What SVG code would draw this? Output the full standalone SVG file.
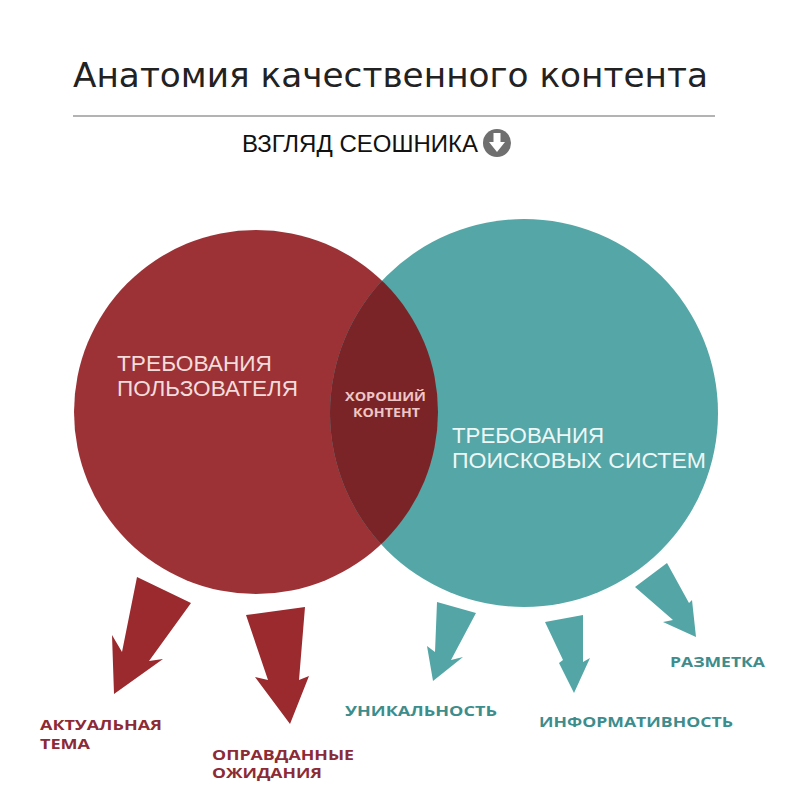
<svg xmlns="http://www.w3.org/2000/svg" width="800" height="804" viewBox="0 0 800 804">
  <style>
    .title { font-family: "DejaVu Sans", Verdana, sans-serif; font-size: 33px; fill: #222; }
    .sub { font-family: "Liberation Sans", Arial, sans-serif; font-size: 24px; fill: #111; }
    .big { font-family: "Liberation Sans", Arial, sans-serif; font-size: 22px; }
    .small { font-family: "Open Sans", "DejaVu Sans", sans-serif; font-size: 12px; font-weight: 700; fill: #f0c6c6; }
    .lbl { font-family: "Open Sans", "DejaVu Sans", sans-serif; font-size: 14.5px; font-weight: 700; }
    .redlbl { fill: #8c2a36; }
    .teallbl { fill: #3d8d8d; }
    .redarr { fill: #9a2a2e; }
    .tealarr { fill: #54a6a6; }
  </style>
  <defs>
    <clipPath id="clipRed">
      <circle cx="256" cy="412" r="182"/>
    </clipPath>
  </defs>
  <rect width="800" height="804" fill="#ffffff"/>

  <g id="header">
    <text class="title" x="73" y="87" textLength="635" lengthAdjust="spacingAndGlyphs">Анатомия качественного контента</text>
    <line x1="73" y1="116" x2="715" y2="116" stroke="#9a9a9a" stroke-width="1.5"/>
    <text class="sub" x="242" y="152" textLength="236" lengthAdjust="spacingAndGlyphs">ВЗГЛЯД СЕОШНИКА</text>
    <g id="icon">
      <circle cx="497" cy="143" r="14" fill="#6f6f6f"/>
      <path d="M493.5 133 H500.5 V142 H505 L497 152 L489 142 H493.5 Z" fill="#ffffff"/>
    </g>
  </g>

  <g id="user-req">
    <circle cx="256" cy="412" r="182" fill="#9c3236"/>
    <text class="big" fill="#f3dcdc" x="117" y="371" textLength="155" lengthAdjust="spacingAndGlyphs">ТРЕБОВАНИЯ</text>
    <text class="big" fill="#f3dcdc" x="117" y="396" textLength="181" lengthAdjust="spacingAndGlyphs">ПОЛЬЗОВАТЕЛЯ</text>
  </g>

  <g id="search-req">
    <circle cx="524" cy="413" r="194" fill="#55a6a6"/>
    <text class="big" fill="#eef7f7" x="452" y="443" textLength="152" lengthAdjust="spacingAndGlyphs">ТРЕБОВАНИЯ</text>
    <text class="big" fill="#eef7f7" x="452" y="468" textLength="254" lengthAdjust="spacingAndGlyphs">ПОИСКОВЫХ СИСТЕМ</text>
  </g>

  <g id="good-content">
    <circle cx="524" cy="413" r="194" fill="#7a2428" clip-path="url(#clipRed)"/>
    <text class="small" x="345" y="401" textLength="81" lengthAdjust="spacingAndGlyphs">ХОРОШИЙ</text>
    <text class="small" x="353" y="417" textLength="67" lengthAdjust="spacingAndGlyphs">КОНТЕНТ</text>
  </g>

  <g id="connectors">
    <polygon class="redarr" points="137,577 191,603 149,661 163,659 114,694 112,635 122,652"/>
    <polygon class="redarr" points="246,615 305,607 299,680 309,676 290,724 255,677 268,680"/>
    <polygon class="tealarr" points="437,602 476,613 451,660 463,657 433,681 427,646 435,652"/>
    <polygon class="tealarr" points="545,622 583,615 583,662 590,658 574,693 559,663 563,660"/>
    <polygon class="tealarr" points="635,587 667,563 689,603 692,600 696,637 663,622 673,620"/>
  </g>

  <g id="label-topic">
    <text class="lbl redlbl" x="40" y="730" textLength="122" lengthAdjust="spacingAndGlyphs">АКТУАЛЬНАЯ</text>
    <text class="lbl redlbl" x="40" y="749" textLength="50" lengthAdjust="spacingAndGlyphs">ТЕМА</text>
  </g>
  <g id="label-expectations">
    <text class="lbl redlbl" x="212" y="760" textLength="142" lengthAdjust="spacingAndGlyphs">ОПРАВДАННЫЕ</text>
    <text class="lbl redlbl" x="212" y="778" textLength="110" lengthAdjust="spacingAndGlyphs">ОЖИДАНИЯ</text>
  </g>
  <g id="label-unique">
    <text class="lbl teallbl" x="345" y="716" textLength="152" lengthAdjust="spacingAndGlyphs">УНИКАЛЬНОСТЬ</text>
  </g>
  <g id="label-info">
    <text class="lbl teallbl" x="539" y="727" textLength="194" lengthAdjust="spacingAndGlyphs">ИНФОРМАТИВНОСТЬ</text>
  </g>
  <g id="label-markup">
    <text class="lbl teallbl" x="670" y="667" textLength="95" lengthAdjust="spacingAndGlyphs">РАЗМЕТКА</text>
  </g>
</svg>
